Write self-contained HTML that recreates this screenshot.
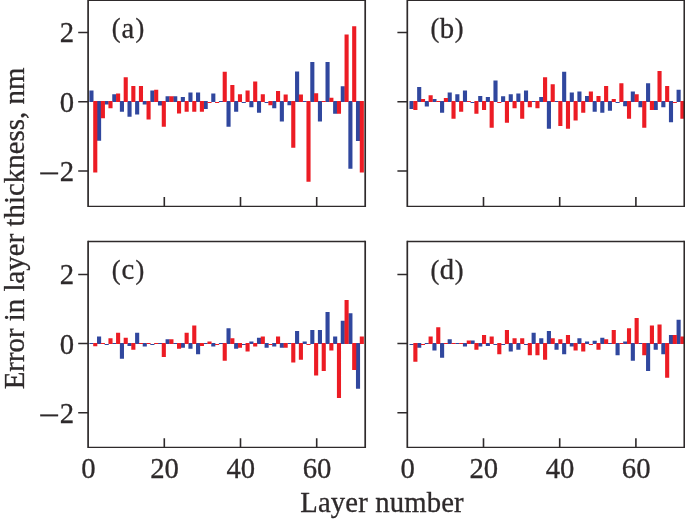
<!DOCTYPE html>
<html lang="en"><head><meta charset="utf-8"><title>Error in layer thickness</title>
<style>html,body{margin:0;padding:0;background:#fff;overflow:hidden}svg{display:block}text{font-family:"Liberation Serif","DejaVu Serif",serif;fill:#2e2a2b;stroke:#2e2a2b;stroke-width:0.3px}</style></head><body>
<svg width="685" height="521" viewBox="0 0 685 521">
<rect width="685" height="521" fill="#fff"/>
<g>
<path fill="#30479e" d="M89.40 90.41h4.11v11.49h-4.11zM97.02 101.00h4.11v39.78h-4.11zM104.64 101.00h4.11v3.56h-4.11zM112.25 94.20h4.11v7.70h-4.11zM119.87 101.00h4.11v10.80h-4.11zM127.48 101.00h4.11v15.63h-4.11zM135.10 101.00h4.11v13.56h-4.11zM142.72 101.00h4.11v3.56h-4.11zM150.33 90.41h4.11v11.49h-4.11zM157.95 101.00h4.11v4.59h-4.11zM165.56 96.28h4.11v5.62h-4.11zM173.18 96.28h4.11v5.62h-4.11zM180.80 96.97h4.11v4.94h-4.11zM188.41 92.48h4.11v9.42h-4.11zM196.03 92.48h4.11v9.42h-4.11zM203.64 101.00h4.11v8.04h-4.11zM211.26 93.52h4.11v8.38h-4.11zM218.88 100.95h4.11v1.00h-4.11zM226.49 101.00h4.11v25.63h-4.11zM234.11 101.00h4.11v10.80h-4.11zM241.72 101.95h4.11v1.00h-4.11zM249.34 101.00h4.11v6.32h-4.11zM256.96 101.00h4.11v11.83h-4.11zM264.57 101.95h4.11v1.00h-4.11zM272.19 101.00h4.11v7.35h-4.11zM279.80 101.00h4.11v20.46h-4.11zM287.42 101.00h4.11v4.25h-4.11zM295.04 71.44h4.11v30.46h-4.11zM302.65 100.95h4.11v1.00h-4.11zM310.27 62.12h4.11v39.78h-4.11zM317.88 101.00h4.11v20.46h-4.11zM325.50 62.12h4.11v39.78h-4.11zM333.12 101.00h4.11v12.87h-4.11zM340.73 86.27h4.11v15.63h-4.11zM348.35 101.00h4.11v67.72h-4.11zM355.96 101.00h4.11v40.12h-4.11z"/>
<path fill="#ec1c24" d="M93.21 101.00h4.11v71.52h-4.11zM100.83 101.00h4.11v17.36h-4.11zM108.44 101.00h4.11v7.35h-4.11zM116.06 93.52h4.11v8.38h-4.11zM123.68 77.30h4.11v24.60h-4.11zM131.29 85.92h4.11v15.97h-4.11zM138.91 85.92h4.11v15.97h-4.11zM146.52 101.00h4.11v18.39h-4.11zM154.14 89.72h4.11v12.18h-4.11zM161.76 101.00h4.11v25.63h-4.11zM169.37 96.28h4.11v5.62h-4.11zM176.99 101.00h4.11v12.52h-4.11zM184.60 101.00h4.11v10.80h-4.11zM192.22 101.00h4.11v10.80h-4.11zM199.84 101.00h4.11v10.80h-4.11zM207.45 101.95h4.11v1.00h-4.11zM215.07 101.95h4.11v1.00h-4.11zM222.68 71.78h4.11v30.12h-4.11zM230.30 84.89h4.11v17.01h-4.11zM237.92 94.20h4.11v7.70h-4.11zM245.53 90.41h4.11v11.49h-4.11zM253.15 81.44h4.11v20.46h-4.11zM260.76 94.20h4.11v7.70h-4.11zM268.38 101.00h4.11v4.25h-4.11zM276.00 91.10h4.11v10.80h-4.11zM283.61 94.55h4.11v7.35h-4.11zM291.23 101.00h4.11v46.68h-4.11zM298.84 94.55h4.11v7.35h-4.11zM306.46 101.00h4.11v80.84h-4.11zM314.08 93.17h4.11v8.73h-4.11zM321.69 100.95h4.11v1.00h-4.11zM329.31 97.66h4.11v4.25h-4.11zM336.92 101.00h4.11v12.87h-4.11zM344.54 34.52h4.11v67.38h-4.11zM352.16 26.24h4.11v75.66h-4.11zM359.77 101.00h4.11v71.52h-4.11z"/>
<path d="M88.10 -0.30V207.00M365.20 -0.30V207.00" fill="none" stroke="#2e2a2b" stroke-width="1.70"/>
<path d="M88.10 0.35H365.20M88.10 206.35H365.20" fill="none" stroke="#2e2a2b" stroke-width="1.30"/>
<path d="M88.10 32.60h-9.9M88.10 101.80h-9.9M88.10 171.00h-9.9" fill="none" stroke="#2e2a2b" stroke-width="1.5"/>
<path d="M164.30 206.35v-9.3M240.50 206.35v-9.3M316.70 206.35v-9.3" fill="none" stroke="#2e2a2b" stroke-width="1.6"/>
<text x="111.8" y="38.1" font-size="28.7" text-anchor="start"><tspan font-size="26.4" dy="-0.8">(</tspan><tspan dy="0.8" dx="1.0">a</tspan><tspan font-size="26.4" dy="-0.8" dx="1.1">)</tspan></text>
</g>
<g>
<path fill="#30479e" d="M409.51 101.00h4.12v8.04h-4.12zM417.14 86.96h4.12v14.94h-4.12zM424.77 101.00h4.12v5.62h-4.12zM432.40 99.03h4.12v2.87h-4.12zM440.03 101.00h4.12v11.83h-4.12zM447.66 92.48h4.12v9.42h-4.12zM455.29 94.20h4.12v7.70h-4.12zM462.92 90.41h4.12v11.49h-4.12zM470.55 101.95h4.12v1.00h-4.12zM478.18 95.93h4.12v5.97h-4.12zM485.81 96.97h4.12v4.94h-4.12zM493.44 80.41h4.12v21.49h-4.12zM501.07 96.28h4.12v5.62h-4.12zM508.70 94.20h4.12v7.70h-4.12zM516.33 93.52h4.12v8.38h-4.12zM523.96 90.41h4.12v11.49h-4.12zM531.59 100.95h4.12v1.00h-4.12zM539.22 96.97h4.12v4.94h-4.12zM546.85 101.00h4.12v27.71h-4.12zM554.48 100.95h4.12v1.00h-4.12zM562.11 71.78h4.12v30.12h-4.12zM569.74 92.48h4.12v9.42h-4.12zM577.37 91.45h4.12v10.45h-4.12zM585.00 95.93h4.12v5.97h-4.12zM592.63 101.00h4.12v10.80h-4.12zM600.26 101.00h4.12v11.83h-4.12zM607.89 101.00h4.12v9.77h-4.12zM615.52 101.95h4.12v1.00h-4.12zM623.15 101.00h4.12v5.28h-4.12zM630.78 91.45h4.12v10.45h-4.12zM638.41 101.00h4.12v6.32h-4.12zM646.04 83.17h4.12v18.73h-4.12zM653.67 101.00h4.12v9.07h-4.12zM661.30 101.00h4.12v6.32h-4.12zM668.93 101.00h4.12v21.15h-4.12zM676.56 89.72h4.12v12.18h-4.12z"/>
<path fill="#ec1c24" d="M413.32 101.00h4.12v9.07h-4.12zM420.95 99.03h4.12v2.87h-4.12zM428.58 95.24h4.12v6.66h-4.12zM436.21 100.95h4.12v1.00h-4.12zM443.84 98.00h4.12v3.90h-4.12zM451.47 101.00h4.12v17.70h-4.12zM459.10 101.00h4.12v10.80h-4.12zM466.73 100.95h4.12v1.00h-4.12zM474.36 101.00h4.12v12.87h-4.12zM481.99 101.00h4.12v9.07h-4.12zM489.62 101.00h4.12v26.67h-4.12zM497.25 101.95h4.12v1.00h-4.12zM504.88 101.00h4.12v21.84h-4.12zM512.51 101.00h4.12v7.35h-4.12zM520.14 101.00h4.12v17.70h-4.12zM527.77 101.00h4.12v6.32h-4.12zM535.40 101.00h4.12v7.35h-4.12zM543.03 77.30h4.12v24.60h-4.12zM550.66 84.20h4.12v17.70h-4.12zM558.29 101.00h4.12v24.94h-4.12zM565.92 101.00h4.12v27.71h-4.12zM573.55 101.00h4.12v19.43h-4.12zM581.18 101.00h4.12v11.83h-4.12zM588.81 91.45h4.12v10.45h-4.12zM596.44 95.93h4.12v5.97h-4.12zM604.07 85.92h4.12v15.97h-4.12zM611.70 99.03h4.12v2.87h-4.12zM619.33 83.17h4.12v18.73h-4.12zM626.96 101.00h4.12v17.70h-4.12zM634.59 94.20h4.12v7.70h-4.12zM642.22 101.00h4.12v26.67h-4.12zM649.85 101.00h4.12v9.07h-4.12zM657.48 71.09h4.12v30.81h-4.12zM665.11 85.92h4.12v15.97h-4.12zM672.74 101.95h4.12v1.00h-4.12zM680.37 101.00h4.12v17.70h-4.12z"/>
<path d="M407.30 -0.30V207.00M684.30 -0.30V207.00" fill="none" stroke="#2e2a2b" stroke-width="1.70"/>
<path d="M407.30 0.35H684.30M407.30 206.35H684.30" fill="none" stroke="#2e2a2b" stroke-width="1.30"/>
<path d="M407.30 32.60h-9.9M407.30 101.80h-9.9M407.30 171.00h-9.9" fill="none" stroke="#2e2a2b" stroke-width="1.5"/>
<path d="M483.50 206.35v-9.3M559.70 206.35v-9.3M635.90 206.35v-9.3" fill="none" stroke="#2e2a2b" stroke-width="1.6"/>
<text x="430.4" y="38.1" font-size="28.7" text-anchor="start"><tspan font-size="26.4" dy="-0.8">(</tspan><tspan dy="0.8" dx="0.5">b</tspan><tspan font-size="26.4" dy="-0.8" dx="0.6">)</tspan></text>
</g>
<g>
<path fill="#30479e" d="M89.40 343.00h4.11v1.00h-4.11zM97.02 336.60h4.11v7.35h-4.11zM104.64 344.00h4.11v1.00h-4.11zM112.25 343.00h4.11v1.00h-4.11zM119.87 343.05h4.11v15.63h-4.11zM127.48 343.05h4.11v2.87h-4.11zM135.10 332.81h4.11v11.14h-4.11zM142.72 343.05h4.11v3.56h-4.11zM150.33 344.00h4.11v1.00h-4.11zM157.95 343.00h4.11v1.00h-4.11zM165.56 339.36h4.11v4.59h-4.11zM173.18 343.00h4.11v1.00h-4.11zM180.80 343.05h4.11v4.59h-4.11zM188.41 343.05h4.11v5.62h-4.11zM196.03 343.05h4.11v11.14h-4.11zM203.64 343.00h4.11v1.00h-4.11zM211.26 343.05h4.11v3.56h-4.11zM218.88 343.00h4.11v1.00h-4.11zM226.49 328.32h4.11v15.63h-4.11zM234.11 343.05h4.11v5.62h-4.11zM241.72 344.00h4.11v1.00h-4.11zM249.34 341.43h4.11v2.52h-4.11zM256.96 337.63h4.11v6.32h-4.11zM264.57 343.05h4.11v4.59h-4.11zM272.19 343.05h4.11v3.56h-4.11zM279.80 343.05h4.11v4.59h-4.11zM287.42 343.00h4.11v1.00h-4.11zM295.04 331.08h4.11v12.87h-4.11zM302.65 341.43h4.11v2.52h-4.11zM310.27 330.05h4.11v13.90h-4.11zM317.88 330.05h4.11v13.90h-4.11zM325.50 312.11h4.11v31.84h-4.11zM333.12 336.60h4.11v7.35h-4.11zM340.73 320.73h4.11v23.22h-4.11zM348.35 313.14h4.11v30.81h-4.11zM355.96 343.05h4.11v45.65h-4.11z"/>
<path fill="#ec1c24" d="M93.21 343.05h4.11v3.21h-4.11zM100.83 343.00h4.11v1.00h-4.11zM108.44 338.32h4.11v5.62h-4.11zM116.06 332.81h4.11v11.14h-4.11zM123.68 337.63h4.11v6.32h-4.11zM131.29 343.05h4.11v6.66h-4.11zM138.91 343.00h4.11v1.00h-4.11zM146.52 343.00h4.11v1.00h-4.11zM154.14 343.00h4.11v1.00h-4.11zM161.76 343.05h4.11v13.90h-4.11zM169.37 339.36h4.11v4.59h-4.11zM176.99 343.05h4.11v5.62h-4.11zM184.60 332.81h4.11v11.14h-4.11zM192.22 325.56h4.11v18.39h-4.11zM199.84 343.05h4.11v2.87h-4.11zM207.45 341.43h4.11v2.52h-4.11zM215.07 344.00h4.11v1.00h-4.11zM222.68 343.05h4.11v17.70h-4.11zM230.30 338.32h4.11v5.62h-4.11zM237.92 343.05h4.11v4.59h-4.11zM245.53 343.05h4.11v8.38h-4.11zM253.15 343.05h4.11v3.56h-4.11zM260.76 336.60h4.11v7.35h-4.11zM268.38 344.00h4.11v1.00h-4.11zM276.00 336.60h4.11v7.35h-4.11zM283.61 343.05h4.11v4.59h-4.11zM291.23 343.05h4.11v19.43h-4.11zM298.84 343.05h4.11v16.66h-4.11zM306.46 344.00h4.11v1.00h-4.11zM314.08 343.05h4.11v32.54h-4.11zM321.69 343.05h4.11v28.05h-4.11zM329.31 343.05h4.11v7.35h-4.11zM336.92 343.05h4.11v54.96h-4.11zM344.54 300.03h4.11v43.92h-4.11zM352.16 343.05h4.11v27.02h-4.11zM359.77 336.60h4.11v7.35h-4.11z"/>
<path d="M88.10 240.85V448.10M365.20 240.85V448.10" fill="none" stroke="#2e2a2b" stroke-width="1.70"/>
<path d="M88.10 241.50H365.20M88.10 447.45H365.20" fill="none" stroke="#2e2a2b" stroke-width="1.30"/>
<path d="M88.10 274.40h-9.9M88.10 343.60h-9.9M88.10 412.80h-9.9" fill="none" stroke="#2e2a2b" stroke-width="1.5"/>
<path d="M164.30 447.45v-9.3M240.50 447.45v-9.3M316.70 447.45v-9.3" fill="none" stroke="#2e2a2b" stroke-width="1.6"/>
<text x="111.8" y="279.3" font-size="28.7" text-anchor="start"><tspan font-size="26.4" dy="-0.8">(</tspan><tspan dy="0.8" dx="1.0">c</tspan><tspan font-size="26.4" dy="-0.8" dx="1.1">)</tspan></text>
</g>
<g>
<path fill="#30479e" d="M409.51 344.00h4.12v1.00h-4.12zM417.14 343.05h4.12v4.59h-4.12zM424.77 343.00h4.12v1.00h-4.12zM432.40 343.05h4.12v7.35h-4.12zM440.03 343.05h4.12v14.59h-4.12zM447.66 339.36h4.12v4.59h-4.12zM455.29 343.00h4.12v1.00h-4.12zM462.92 343.05h4.12v3.56h-4.12zM470.55 340.39h4.12v3.56h-4.12zM478.18 343.05h4.12v3.56h-4.12zM485.81 343.05h4.12v2.87h-4.12zM493.44 344.00h4.12v1.00h-4.12zM501.07 344.00h4.12v1.00h-4.12zM508.70 343.05h4.12v8.38h-4.12zM516.33 343.05h4.12v6.66h-4.12zM523.96 344.00h4.12v1.00h-4.12zM531.59 332.81h4.12v11.14h-4.12zM539.22 338.32h4.12v5.62h-4.12zM546.85 331.08h4.12v12.87h-4.12zM554.48 343.05h4.12v6.66h-4.12zM562.11 343.05h4.12v11.14h-4.12zM569.74 343.05h4.12v3.56h-4.12zM577.37 338.32h4.12v5.62h-4.12zM585.00 341.43h4.12v2.52h-4.12zM592.63 340.74h4.12v3.21h-4.12zM600.26 337.63h4.12v6.32h-4.12zM607.89 343.00h4.12v1.00h-4.12zM615.52 343.05h4.12v12.18h-4.12zM623.15 341.43h4.12v2.52h-4.12zM630.78 343.05h4.12v17.70h-4.12zM638.41 343.00h4.12v1.00h-4.12zM646.04 343.05h4.12v28.05h-4.12zM653.67 343.05h4.12v6.66h-4.12zM661.30 343.05h4.12v11.14h-4.12zM668.93 334.88h4.12v9.07h-4.12zM676.56 319.69h4.12v24.25h-4.12z"/>
<path fill="#ec1c24" d="M413.32 343.05h4.12v18.73h-4.12zM420.95 344.00h4.12v1.00h-4.12zM428.58 336.60h4.12v7.35h-4.12zM436.21 327.29h4.12v16.66h-4.12zM443.84 343.00h4.12v1.00h-4.12zM451.47 343.00h4.12v1.00h-4.12zM459.10 343.00h4.12v1.00h-4.12zM466.73 340.39h4.12v3.56h-4.12zM474.36 343.05h4.12v6.66h-4.12zM481.99 334.88h4.12v9.07h-4.12zM489.62 336.60h4.12v7.35h-4.12zM497.25 343.05h4.12v11.14h-4.12zM504.88 330.05h4.12v13.90h-4.12zM512.51 338.32h4.12v5.62h-4.12zM520.14 338.32h4.12v5.62h-4.12zM527.77 343.05h4.12v12.18h-4.12zM535.40 343.05h4.12v12.18h-4.12zM543.03 343.05h4.12v16.66h-4.12zM550.66 338.32h4.12v5.62h-4.12zM558.29 339.36h4.12v4.59h-4.12zM565.92 334.88h4.12v9.07h-4.12zM573.55 343.05h4.12v7.35h-4.12zM581.18 343.05h4.12v8.38h-4.12zM588.81 344.00h4.12v1.00h-4.12zM596.44 343.05h4.12v6.66h-4.12zM604.07 339.36h4.12v4.59h-4.12zM611.70 330.05h4.12v13.90h-4.12zM619.33 343.00h4.12v1.00h-4.12zM626.96 328.32h4.12v15.63h-4.12zM634.59 317.97h4.12v25.98h-4.12zM642.22 343.05h4.12v12.18h-4.12zM649.85 325.56h4.12v18.39h-4.12zM657.48 324.52h4.12v19.43h-4.12zM665.11 343.05h4.12v34.61h-4.12zM672.74 334.88h4.12v9.07h-4.12zM680.37 336.60h4.12v7.35h-4.12z"/>
<path d="M407.30 240.85V448.10M684.30 240.85V448.10" fill="none" stroke="#2e2a2b" stroke-width="1.70"/>
<path d="M407.30 241.50H684.30M407.30 447.45H684.30" fill="none" stroke="#2e2a2b" stroke-width="1.30"/>
<path d="M407.30 274.40h-9.9M407.30 343.60h-9.9M407.30 412.80h-9.9" fill="none" stroke="#2e2a2b" stroke-width="1.5"/>
<path d="M483.50 447.45v-9.3M559.70 447.45v-9.3M635.90 447.45v-9.3" fill="none" stroke="#2e2a2b" stroke-width="1.6"/>
<text x="430.4" y="279.3" font-size="28.7" text-anchor="start"><tspan font-size="26.4" dy="-0.8">(</tspan><tspan dy="0.8" dx="0.5">d</tspan><tspan font-size="26.4" dy="-0.8" dx="0.6">)</tspan></text>
</g>
<text x="74.0" y="42.4" font-size="28.7" text-anchor="end">2</text>
<text x="74.0" y="111.6" font-size="28.7" text-anchor="end">0</text>
<text x="38.3" y="182.8" font-size="28.7"><tspan textLength="21.4" lengthAdjust="spacingAndGlyphs">−</tspan><tspan x="59.65" dy="-2.0">2</tspan></text>
<text x="74.0" y="284.3" font-size="28.7" text-anchor="end">2</text>
<text x="74.0" y="353.5" font-size="28.7" text-anchor="end">0</text>
<text x="38.3" y="424.7" font-size="28.7"><tspan textLength="21.4" lengthAdjust="spacingAndGlyphs">−</tspan><tspan x="59.65" dy="-2.0">2</tspan></text>
<text x="88.4" y="478.0" font-size="28.7" text-anchor="middle">0</text>
<text x="164.6" y="478.0" font-size="28.7" text-anchor="middle">20</text>
<text x="240.8" y="478.0" font-size="28.7" text-anchor="middle">40</text>
<text x="317.0" y="478.0" font-size="28.7" text-anchor="middle">60</text>
<text x="407.6" y="478.0" font-size="28.7" text-anchor="middle">0</text>
<text x="483.8" y="478.0" font-size="28.7" text-anchor="middle">20</text>
<text x="560.0" y="478.0" font-size="28.7" text-anchor="middle">40</text>
<text x="636.2" y="478.0" font-size="28.7" text-anchor="middle">60</text>
<text x="382.0" y="512.0" font-size="28.7" text-anchor="middle" letter-spacing="0.15">Layer number</text>
<text transform="translate(24.0 228.5) rotate(-90)" font-size="28.9" text-anchor="middle">Error in layer thickness, nm</text>
</svg></body></html>
